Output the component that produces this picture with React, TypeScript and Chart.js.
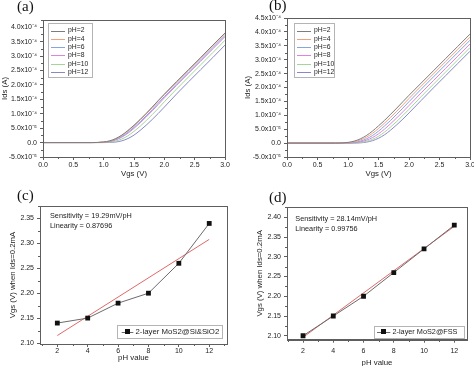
import React, { useEffect, useRef } from "react";
import { Chart, registerables } from "chart.js";

Chart.register(...registerables);

// ---------- data ----------
const VGS = [0, 0.8, 0.9, 1.0, 1.1, 1.2, 1.3, 1.4, 1.5, 1.6, 1.7, 1.8, 1.9, 2.0, 2.2, 2.4, 2.6, 2.8, 3.0];
const PH_LABELS = ["pH=2", "pH=4", "pH=6", "pH=8", "pH=10", "pH=12"];
const IDS_UNIT = 1e-4; // values below are in units of 1e-4 A

// panel (a)
const IDS_A_PH2 = [0, 0, 0.005, 0.02, 0.06, 0.14, 0.26, 0.42, 0.6, 0.8, 1.01, 1.23, 1.46, 1.68, 2.11, 2.53, 2.95, 3.38, 3.8];
const IDS_A_PH4 = [0, 0, 0.004, 0.017, 0.054, 0.13, 0.25, 0.4, 0.58, 0.78, 0.99, 1.21, 1.44, 1.66, 2.09, 2.51, 2.93, 3.36, 3.78];
const IDS_A_PH6 = [0, 0, 0.003, 0.014, 0.044, 0.108, 0.212, 0.356, 0.528, 0.72, 0.926, 1.142, 1.368, 1.592, 2.024, 2.446, 2.866, 3.294, 3.716];
const IDS_A_PH8 = [0, 0, 0.002, 0.011, 0.036, 0.092, 0.188, 0.324, 0.492, 0.68, 0.884, 1.098, 1.322, 1.548, 1.981, 2.404, 2.824, 3.251, 3.674];
const IDS_A_PH10 = [0, 0, 0, 0.004, 0.017, 0.052, 0.124, 0.236, 0.388, 0.564, 0.76, 0.968, 1.186, 1.414, 1.852, 2.278, 2.698, 3.122, 3.548];
const IDS_A_PH12 = [0, 0, 0, 0, 0.005, 0.02, 0.06, 0.14, 0.26, 0.42, 0.6, 0.8, 1.01, 1.23, 1.68, 2.11, 2.53, 2.95, 3.38];

// panel (b)
const IDS_B_PH2 = [0, 0, 0.005, 0.025, 0.07, 0.15, 0.27, 0.43, 0.62, 0.82, 1.04, 1.26, 1.49, 1.72, 2.16, 2.6, 3.04, 3.48, 3.92];
const IDS_B_PH4 = [0, 0, 0.003, 0.015, 0.048, 0.11, 0.21, 0.35, 0.525, 0.72, 0.93, 1.15, 1.375, 1.605, 2.05, 2.49, 2.93, 3.37, 3.81];
const IDS_B_PH6 = [0, 0, 0, 0.005, 0.025, 0.07, 0.15, 0.27, 0.43, 0.62, 0.82, 1.04, 1.26, 1.49, 1.94, 2.38, 2.82, 3.26, 3.7];
const IDS_B_PH8 = [0, 0, 0, 0.002, 0.013, 0.043, 0.102, 0.198, 0.334, 0.506, 0.7, 0.908, 1.128, 1.352, 1.808, 2.248, 2.688, 3.128, 3.568];
const IDS_B_PH10 = [0, 0, 0, 0, 0.004, 0.021, 0.061, 0.134, 0.246, 0.398, 0.582, 0.78, 0.996, 1.216, 1.674, 2.116, 2.556, 2.996, 3.436];
const IDS_B_PH12 = [0, 0, 0, 0, 0.001, 0.009, 0.034, 0.086, 0.174, 0.302, 0.468, 0.66, 0.864, 1.084, 1.536, 1.984, 2.424, 2.864, 3.304];

// panels (c) and (d)
const PH = [2, 4, 6, 8, 10, 12];
const VGS_C = [2.14, 2.15, 2.18, 2.2, 2.26, 2.34];
const VGS_D = [2.1, 2.15, 2.2, 2.26, 2.32, 2.38];
const FIT_X = [2, 12];
const FIT_C = [2.115, 2.308];
const FIT_D = [2.096, 2.377];
const LABEL_C = "2-layer MoS2@Si&SiO2";
const LABEL_D = "2-layer MoS2@FSS";
const TEXT_C = ["Sensitivity = 19.29mV/pH", "Linearity = 0.87696"];
const TEXT_D = ["Sensitivity = 28.14mV/pH", "Linearity = 0.99756"];

// ---------- styles ----------
const CURVE_COLORS = ["#7c7c7c", "#f0a07c", "#86a4e0", "#dc84de", "#a4d69a", "#8a88c4"];
const SANS = "'Liberation Sans', Arial, sans-serif";
const SERIF = "'Liberation Serif', 'Times New Roman', serif";
const TEXT = "#1c1c1c";
const FRAME = "#5e5e5e";

const SUP: Record<string, string> = { "-": "\u207B", "0": "\u2070", "1": "\u00B9", "2": "\u00B2", "3": "\u00B3", "4": "\u2074", "5": "\u2075", "6": "\u2076", "7": "\u2077", "8": "\u2078", "9": "\u2079" };

function sciLabel(v: number): string {
  if (Math.abs(v) < 1e-12) return "0.0";
  const [m, e] = v.toExponential(1).split("e");
  const exp = String(parseInt(e, 10)).split("").map((c) => SUP[c] || c).join("");
  return m + "x10" + exp;
}

type Spec = {
  left: number;
  top: number;
  pad: { left: number; top: number; right: number; bottom: number };
  yWidth: number;
  xHeight: number;
  x: { min: number; max: number; step: number; fmt: (v: number) => string; tickPad: number; title: string; titlePad: number; titleLH: number };
  y: { min: number; max: number; step: number; fmt: (v: number) => string; title: string; titlePad: number };
  datasets: any[];
  label: { text: string; x: number; y: number };
  notes?: { lines: string[]; x: number; y: number; dy: number };
  legend: any;
};

function curveSets(series: number[][]) {
  return series.map((arr, i) => ({
    label: PH_LABELS[i],
    data: VGS.map((x, j) => ({ x, y: arr[j] * IDS_UNIT })),
    borderColor: CURVE_COLORS[i],
    backgroundColor: CURVE_COLORS[i],
    borderWidth: 1,
    pointRadius: 0,
    cubicInterpolationMode: "monotone",
    fill: false,
  }));
}

function phSets(label: string, values: number[], fit: number[]) {
  return [
    {
      label,
      data: PH.map((x, i) => ({ x, y: values[i] })),
      borderColor: "#6a6a6a",
      borderWidth: 1,
      pointStyle: "rect",
      pointRadius: 3.4,
      pointBackgroundColor: "#111",
      pointBorderColor: "#111",
      pointBorderWidth: 0,
      fill: false,
    },
    {
      label: "fit",
      data: FIT_X.map((x, i) => ({ x, y: fit[i] })),
      borderColor: "#e06868",
      borderWidth: 1,
      pointRadius: 0,
      fill: false,
    },
  ];
}

const SPECS: Spec[] = [
  {
    left: 0, top: 0,
    pad: { left: 0, top: 20, right: 12, bottom: 0 }, yWidth: 43, xHeight: 26,
    x: { min: 0, max: 3, step: 0.5, fmt: (v) => v.toFixed(1), tickPad: 1, title: "Vgs (V)", titlePad: 4.5, titleLH: 1.2 },
    y: { min: -5e-5, max: 4.25e-4, step: 5e-5, fmt: sciLabel, title: "Ids (A)", titlePad: 0 },
    datasets: curveSets([IDS_A_PH2, IDS_A_PH4, IDS_A_PH6, IDS_A_PH8, IDS_A_PH10, IDS_A_PH12]),
    label: { text: "(a)", x: 17, y: 7 },
    legend: { kind: "multi", x0: 48, y0: 23, x1: 92, y1: 77, l0: 51, l1: 65, tx: 68, ry: 30.5, dy: 8.3, font: 6.8 },
  },
  {
    left: 237, top: 0,
    pad: { left: 0, top: 18, right: 4, bottom: 0 }, yWidth: 50, xHeight: 26,
    x: { min: 0, max: 3, step: 0.5, fmt: (v) => v.toFixed(1), tickPad: 1, title: "Vgs (V)", titlePad: 4.5, titleLH: 1.2 },
    y: { min: -5e-5, max: 4.5e-4, step: 5e-5, fmt: sciLabel, title: "Ids (A)", titlePad: 6 },
    datasets: curveSets([IDS_B_PH2, IDS_B_PH4, IDS_B_PH6, IDS_B_PH8, IDS_B_PH10, IDS_B_PH12]),
    label: { text: "(b)", x: 32, y: 6 },
    legend: { kind: "multi", x0: 57, y0: 23, x1: 97, y1: 77, l0: 60, l1: 74, tx: 77, ry: 30.5, dy: 8.3, font: 6.8 },
  },
  {
    left: 0, top: 183,
    pad: { left: 0, top: 23, right: 10, bottom: 0 }, yWidth: 40, xHeight: 22,
    x: { min: 0.86, max: 13.17, step: 2, fmt: (v) => String(Math.round(v)), tickPad: 0, title: "pH value", titlePad: 3.5, titleLH: 1.2 },
    y: { min: 2.098, max: 2.375, step: 0.05, fmt: (v) => v.toFixed(2), title: "Vgs (V) when Ids=0.2mA", titlePad: 8 },
    datasets: phSets(LABEL_C, VGS_C, FIT_C),
    label: { text: "(c)", x: 17, y: 13 },
    notes: { lines: TEXT_C, x: 50, y: 33.3, dy: 10 },
    legend: { kind: "single", x0: 117, y0: 142.3, x1: 222, y1: 155, l0: 121.7, l1: 133.3, tx: 135.5, ry: 148.7, font: 7.8 },
  },
  {
    left: 237, top: 183,
    pad: { left: 0, top: 24, right: 7, bottom: 0 }, yWidth: 50, xHeight: 26.3,
    x: { min: 0.94, max: 12.84, step: 2, fmt: (v) => String(Math.round(v)), tickPad: 4, title: "pH value", titlePad: 0, titleLH: 0.9 },
    y: { min: 2.09, max: 2.426, step: 0.05, fmt: (v) => v.toFixed(2), title: "Vgs (V) when Ids=0.2mA", titlePad: 18 },
    datasets: phSets(LABEL_D, VGS_D, FIT_D),
    label: { text: "(d)", x: 32, y: 15 },
    notes: { lines: TEXT_D, x: 58.3, y: 35.7, dy: 10 },
    legend: { kind: "single", x0: 137, y0: 142.5, x1: 227, y1: 154.5, l0: 140, l1: 153.3, tx: 155.5, ry: 148.5, font: 7.3 },
  },
];

const px = (v: number) => Math.round(v) + 0.5;

function minorTicks(ctx: CanvasRenderingContext2D, scale: any, horizontal: boolean, ca: any) {
  const vals = scale.ticks.map((t: any) => t.value);
  if (vals.length < 2) return;
  const step = vals[1] - vals[0];
  ctx.beginPath();
  for (let v = vals[0] - step / 2; v <= scale.max + step * 1e-6; v += step) {
    if (v < scale.min) continue;
    const p = px(scale.getPixelForValue(v));
    if (horizontal) {
      ctx.moveTo(p, Math.round(ca.bottom));
      ctx.lineTo(p, Math.round(ca.bottom) + 2);
    } else {
      ctx.moveTo(Math.round(ca.left) - 2, p);
      ctx.lineTo(Math.round(ca.left), p);
    }
  }
  ctx.stroke();
}

function decor(spec: Spec) {
  return {
    id: "decor",
    afterDraw(chart: any) {
      const ctx: CanvasRenderingContext2D = chart.ctx;
      const ca = chart.chartArea;
      ctx.save();
      // frame
      ctx.strokeStyle = FRAME;
      ctx.lineWidth = 1;
      ctx.strokeRect(px(ca.left), px(ca.top), Math.round(ca.right) - Math.round(ca.left), Math.round(ca.bottom) - Math.round(ca.top));
      minorTicks(ctx, chart.scales.x, true, ca);
      minorTicks(ctx, chart.scales.y, false, ca);
      // panel label
      ctx.fillStyle = "#111";
      ctx.font = `15px ${SERIF}`;
      ctx.textAlign = "left";
      ctx.textBaseline = "middle";
      ctx.fillText(spec.label.text, spec.label.x, spec.label.y);
      // notes
      if (spec.notes) {
        ctx.fillStyle = TEXT;
        ctx.font = `7.3px ${SANS}`;
        spec.notes.lines.forEach((t, i) => ctx.fillText(t, spec.notes!.x, spec.notes!.y + i * spec.notes!.dy));
      }
      // legend
      const lg = spec.legend;
      ctx.strokeStyle = "#b4b4b4";
      ctx.strokeRect(px(lg.x0), px(lg.y0), Math.round(lg.x1 - lg.x0), Math.round(lg.y1 - lg.y0));
      ctx.font = `${lg.font}px ${SANS}`;
      if (lg.kind === "multi") {
        chart.data.datasets.forEach((ds: any, i: number) => {
          const y = lg.ry + i * lg.dy;
          ctx.strokeStyle = ds.borderColor;
          ctx.beginPath();
          ctx.moveTo(lg.l0, px(y));
          ctx.lineTo(lg.l1, px(y));
          ctx.stroke();
          ctx.fillStyle = TEXT;
          ctx.fillText(ds.label, lg.tx, y);
        });
      } else {
        const ds = chart.data.datasets[0];
        ctx.strokeStyle = ds.borderColor;
        ctx.beginPath();
        ctx.moveTo(lg.l0, px(lg.ry));
        ctx.lineTo(lg.l1, px(lg.ry));
        ctx.stroke();
        ctx.fillStyle = ds.pointBackgroundColor;
        const cx = (lg.l0 + lg.l1) / 2;
        ctx.fillRect(Math.round(cx - 2.4), Math.round(lg.ry - 2.4), 5, 5);
        ctx.fillStyle = TEXT;
        ctx.fillText(ds.label, lg.tx, lg.ry + 0.5);
      }
      ctx.restore();
    },
  };
}

function buildConfig(spec: Spec): any {
  return {
    type: "line",
    data: { datasets: spec.datasets },
    options: {
      responsive: false,
      maintainAspectRatio: false,
      animation: false,
      devicePixelRatio: 1,
      events: [],
      layout: { padding: spec.pad },
      plugins: { legend: { display: false }, tooltip: { enabled: false }, title: { display: false } },
      scales: {
        x: {
          type: "linear",
          position: "bottom",
          min: spec.x.min,
          max: spec.x.max,
          afterFit: (s: any) => {
            s.height = spec.xHeight;
            s.paddingLeft = 0;
            s.paddingRight = 0;
          },
          ticks: {
            stepSize: spec.x.step,
            includeBounds: false,
            autoSkip: false,
            maxRotation: 0,
            padding: spec.x.tickPad,
            color: TEXT,
            font: { family: SANS, size: 7 },
            callback: (v: any) => spec.x.fmt(Number(v)),
          },
          grid: { drawOnChartArea: false, drawTicks: true, tickLength: 3, tickColor: FRAME, tickWidth: 1 },
          border: { display: true, color: FRAME, width: 1 },
          title: {
            display: true,
            text: spec.x.title,
            color: TEXT,
            font: { family: SANS, size: 7.8, lineHeight: spec.x.titleLH },
            padding: { top: 0, bottom: spec.x.titlePad },
          },
        },
        y: {
          type: "linear",
          position: "left",
          min: spec.y.min,
          max: spec.y.max,
          afterFit: (s: any) => {
            s.width = spec.yWidth;
            s.paddingTop = 0;
            s.paddingBottom = 0;
          },
          ticks: {
            stepSize: spec.y.step,
            includeBounds: false,
            autoSkip: false,
            padding: 3,
            color: TEXT,
            font: { family: SANS, size: 7 },
            callback: (v: any) => spec.y.fmt(Number(v)),
          },
          grid: { drawOnChartArea: false, drawTicks: true, tickLength: 3, tickColor: FRAME, tickWidth: 1 },
          border: { display: true, color: FRAME, width: 1 },
          title: {
            display: true,
            text: spec.y.title,
            color: TEXT,
            font: { family: SANS, size: 7.8, lineHeight: 1.2 },
            padding: { top: spec.y.titlePad, bottom: 0 },
          },
        },
      },
    },
    plugins: [decor(spec)],
  };
}

export default function App() {
  const refs = useRef<(HTMLCanvasElement | null)[]>([]);
  useEffect(() => {
    const charts = SPECS.map((spec, i) => new Chart(refs.current[i] as HTMLCanvasElement, buildConfig(spec)));
    return () => charts.forEach((c) => c.destroy());
  }, []);
  return (
    <div style={{ position: "fixed", left: 0, top: 0, width: 474, height: 366, background: "#fff", overflow: "hidden" }}>
      {SPECS.map((s, i) => (
        <canvas
          key={i}
          ref={(el) => {
            refs.current[i] = el;
          }}
          width={237}
          height={183}
          style={{ position: "absolute", left: s.left, top: s.top, width: 237, height: 183 }}
        />
      ))}
    </div>
  );
}
